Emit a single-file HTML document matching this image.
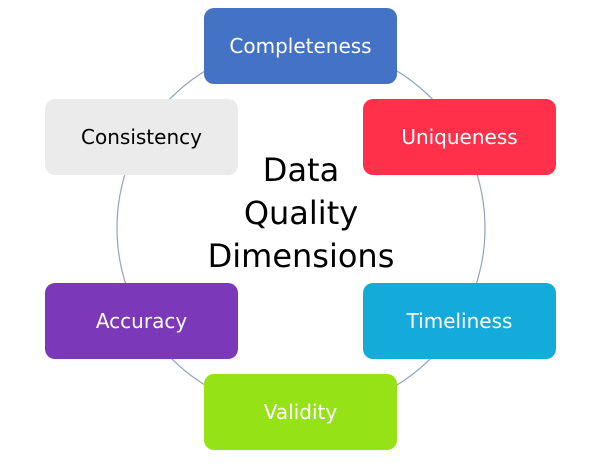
<!DOCTYPE html>
<html><head><meta charset="utf-8"><style>
body{margin:0;width:600px;height:465px;background:#fff;position:relative;overflow:hidden;font-family:"DejaVu Sans","Liberation Sans",sans-serif}
.b{position:absolute;width:193px;height:76px;border-radius:10px;display:flex;align-items:center;justify-content:center;font-size:20px;color:#fff}
.c{position:absolute;left:150px;width:302px;text-align:center;font-size:32px;color:#000;line-height:43px;top:149px}
</style></head><body>
<svg width="600" height="465" style="position:absolute;left:0;top:0"><circle cx="301" cy="228" r="184" fill="none" stroke="#8fa3c4" stroke-width="1.2"/></svg>
<div class="b" style="left:204px;top:8px;background:#4472C4">Completeness</div>
<div class="b" style="left:363px;top:99px;background:#FF3049">Uniqueness</div>
<div class="b" style="left:45px;top:99px;background:#EBEBEB;color:#000">Consistency</div>
<div class="b" style="left:363px;top:283px;background:#14ABDB">Timeliness</div>
<div class="b" style="left:45px;top:283px;background:#7B38B8">Accuracy</div>
<div class="b" style="left:204px;top:374px;background:#95E317">Validity</div>
<div class="c">Data<br>Quality<br>Dimensions</div>
</body></html>
